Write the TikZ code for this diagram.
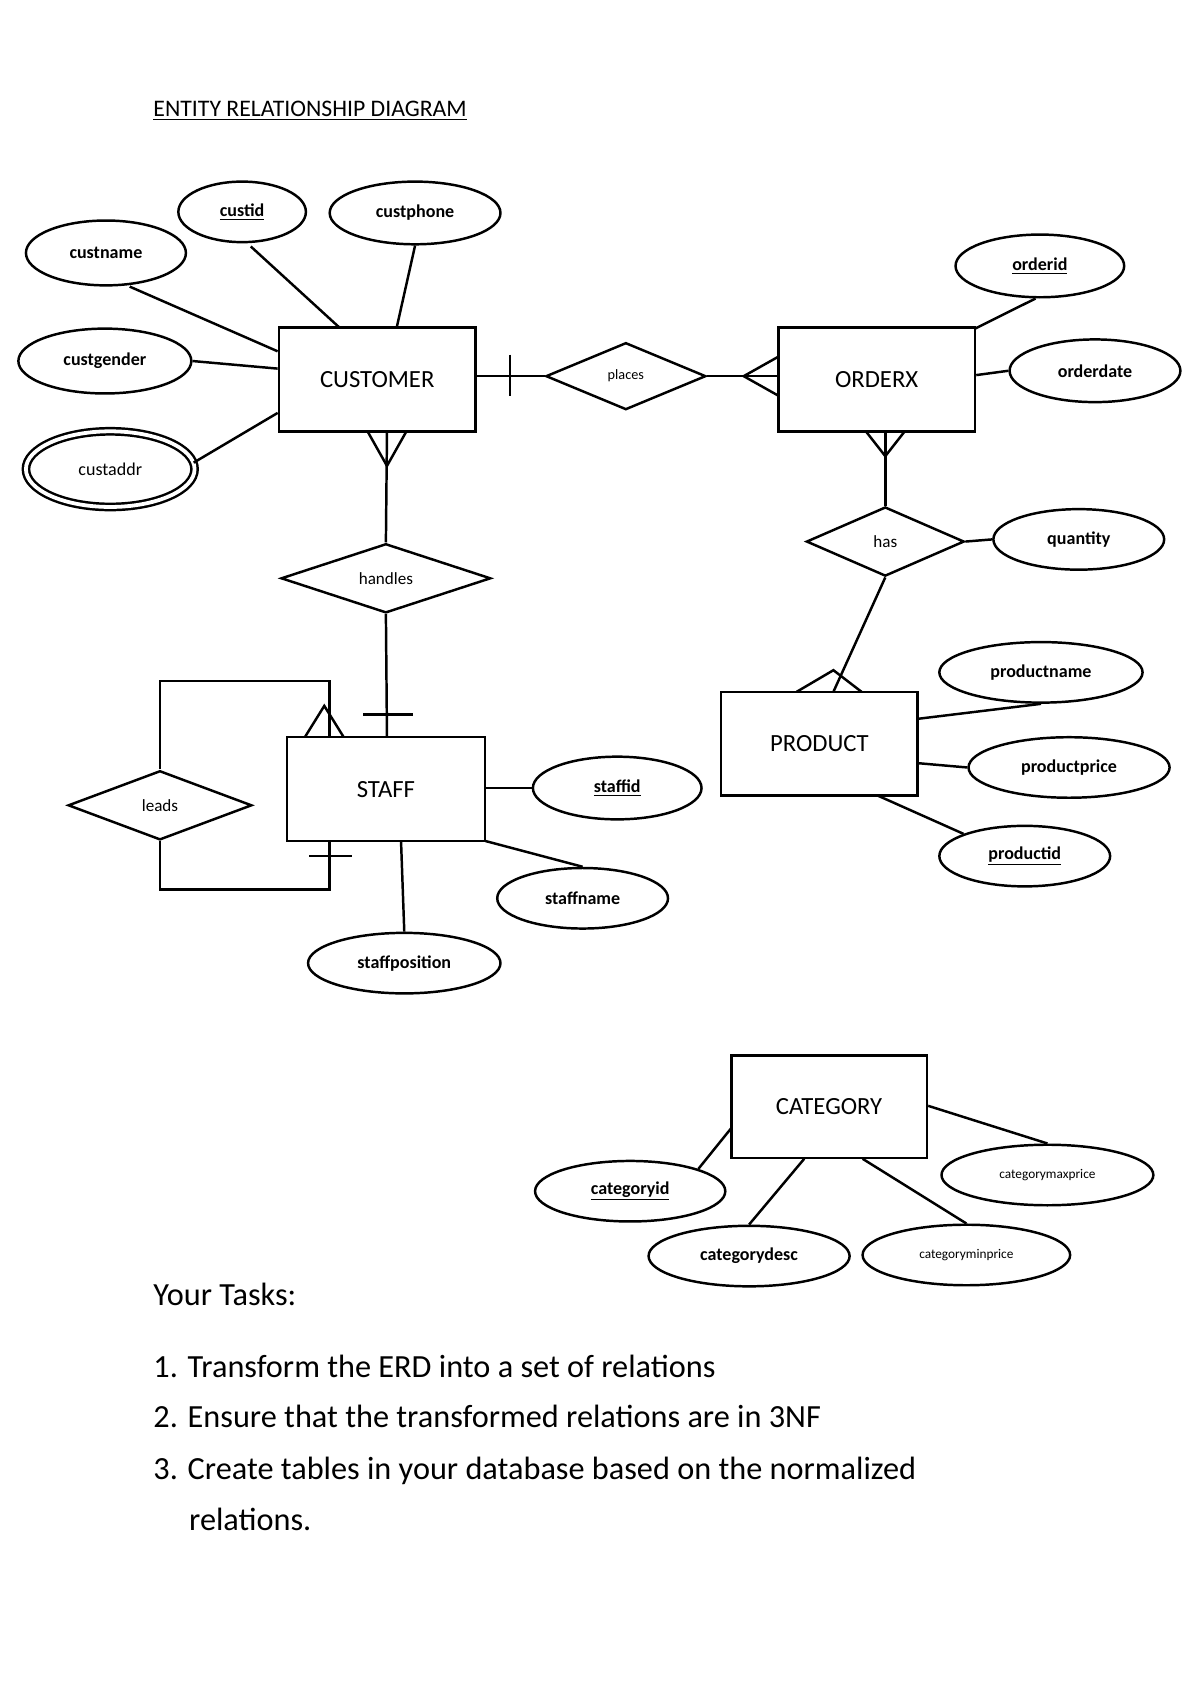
\documentclass[tikz,border=0pt]{standalone}
\usepackage{fontspec}
\setmainfont{Carlito}
\usetikzlibrary{shapes.geometric,shapes.misc}
\newcommand{\att}[6]{\node[attr,minimum width=#4*0.02cm,minimum height=#5*0.02cm] (#1) at (#2,#3) {#6};}
\begin{document}
\begin{tikzpicture}[x=0.02cm,y=-0.02cm,line width=1.3pt,
 ent/.style={draw,rectangle,inner sep=0pt,font=\fontsize{13}{15}\selectfont},
 attr/.style={draw,ellipse,inner sep=0pt,font=\bfseries\fontsize{9.5}{11}\selectfont},
 rel/.style={draw,diamond,aspect=2.4,inner sep=0pt,font=\fontsize{9}{11}\selectfont}]
\useasboundingbox (0,0) rectangle (1110,1569);
\node[anchor=base west,font=\fontsize{12.5}{14}\selectfont] (title) at (135,108) {\underline{ENTITY RELATIONSHIP DIAGRAM}};
% entities
\node[ent,minimum width=182*0.02cm,minimum height=96*0.02cm] (cust) at (349,351) {CUSTOMER};
\node[ent,minimum width=182*0.02cm,minimum height=96*0.02cm] (ord) at (811,351) {ORDERX};
\node[ent,minimum width=183*0.02cm,minimum height=96*0.02cm] (staff) at (357,730) {STAFF};
\node[ent,minimum width=182*0.02cm,minimum height=96*0.02cm] (prod) at (758,688) {PRODUCT};
\node[ent,minimum width=181*0.02cm,minimum height=95*0.02cm] (cat) at (767,1024) {CATEGORY};
% attributes
\att{custid}{224}{196}{118}{56}{\underline{custid}}
\att{custphone}{384}{197}{158}{58}{custphone}
\att{custname}{98}{234}{148}{60}{custname}
\att{custgender}{97}{334}{160}{60}{custgender}
\node[draw,ellipse,double,double distance=2pt,minimum width=156*0.02cm,minimum height=70*0.02cm,inner sep=0pt,font=\fontsize{9.5}{11}\selectfont] (custaddr) at (102,434) {custaddr};
\att{orderid}{962}{246}{156}{58}{\underline{orderid}}
\att{orderdate}{1013}{343}{158}{58}{orderdate}
\att{quantity}{998}{499}{158}{56}{quantity}
\att{productname}{963}{622}{188}{56}{productname}
\att{productprice}{989}{710}{186}{56}{productprice}
\att{productid}{948}{792}{158}{56}{\underline{productid}}
\att{staffid}{571}{729}{156}{58}{\underline{staffid}}
\att{staffname}{539}{831}{158}{56}{staffname}
\att{staffposition}{374}{891}{178}{56}{staffposition}
\att{categoryid}{583}{1102}{176}{56}{\underline{categoryid}}
\att{categorydesc}{693}{1162}{186}{56}{categorydesc}
\node[attr,font=\fontsize{7}{8}\selectfont,minimum width=196*0.02cm,minimum height=56*0.02cm] (catmax) at (969,1087) {categorymaxprice};
\node[attr,font=\fontsize{7}{8}\selectfont,minimum width=192*0.02cm,minimum height=56*0.02cm] (catmin) at (894,1161) {categoryminprice};
% relationships
\node[rel,minimum width=148*0.02cm,minimum height=62*0.02cm,font=\fontsize{7.5}{9}\selectfont] (places) at (579,348) {places};
\node[rel,minimum width=194*0.02cm,minimum height=64*0.02cm] (handles) at (357,535) {handles};
\node[rel,minimum width=146*0.02cm,minimum height=64*0.02cm] (has) at (819,501) {has};
\node[rel,minimum width=170*0.02cm,minimum height=64*0.02cm] (leads) at (148,745) {leads};
% attribute lines
\draw (custname.south) ++(22,0) coordinate (a1) -- (cust.west |- 0,325) coordinate (a2);
\draw (custid) ++(8,32) coordinate (b1) -- (314,303) coordinate (b2);
\draw (custphone.south) -- (367,303) coordinate (b3);
\draw (custgender.east) -- (cust.west |- 0,341) coordinate (b4);
\draw (custaddr.east) ++(-2,-6) coordinate (b5) -- (cust.west |- 0,382) coordinate (b6);
\draw (orderid.south) ++(-4,0) coordinate (c1) -- (902,304) coordinate (c2);
\draw (ord.east |- 0,347) coordinate (c3) -- (orderdate.west);
\draw (has.east) -- (quantity.west);
\draw (849,665) coordinate (d1) -- (productname.south) ;
\draw (849,706) coordinate (d2) -- (productprice.west);
\draw (812,736) coordinate (d3) -- (productid.north west);
\draw (staff.east |- 0,729) coordinate (e1) -- (staffid.west);
\draw (449,778) coordinate (e2) -- (staffname.north);
\draw (371,778) coordinate (e3) -- (staffposition.north);
\draw (677,1043) coordinate (f1) -- (categoryid.north east);
\draw (744,1072) coordinate (f2) -- (categorydesc.north);
\draw (798,1072) coordinate (f3) -- (catmin.north);
\draw (cat.east |- 0,1023) coordinate (f4) -- (catmax.north);
% relationships lines
\draw (cust.east |- 0,348) coordinate (g1) -- (places.west);
\draw (472,328) coordinate (g2) -- (472,366) coordinate (g3);
\draw (places.east) -- (ord.west |- 0,348) coordinate (g4);
\draw (720,330) coordinate (g5) -- (688,348) coordinate (g6) -- (720,366) coordinate (g7);
\draw (cust.south -| 358,0) coordinate (h1) -- (handles.north);
\draw (340,399) coordinate (h2) -- (358,431) coordinate (h3) -- (376,399) coordinate (h4);
\draw (handles.south) -- (staff.north -| 358,0) coordinate (h5);
\draw (336,661) coordinate (h6) -- (382,661) coordinate (h7);
\draw (ord.south -| 819,0) coordinate (i1) -- (has.north);
\draw (801,399) coordinate (i2) -- (819,422) coordinate (i3) -- (837,399) coordinate (i4);
\draw (has.south) -- (771,640) coordinate (j1);
\draw (737,640) coordinate (j2) -- (771,620) coordinate (j3) -- (797,640) coordinate (j4);
\draw (leads.north) -- (148,630) coordinate (k1) -- (305,630) coordinate (k2) -- (305,682) coordinate (k3);
\draw (282,682) coordinate (k4) -- (300,653) coordinate (k5) -- (318,682) coordinate (k6);
\draw (leads.south) -- (148,823) coordinate (l1) -- (305,823) coordinate (l2) -- (305,778) coordinate (l3);
\draw (286,792) coordinate (l4) -- (326,792) coordinate (l5);
% tasks
\begin{scope}[font=\fontsize{17}{20}\selectfont]
\node[anchor=base west] (t0) at (135,1208) {Your Tasks:};
\node[anchor=base west] (t1) at (135,1274) {1. Transform the ERD into a set of relations};
\node[anchor=base west] (t2) at (135,1321) {2. Ensure that the transformed relations are in 3NF};
\node[anchor=base west] (t3) at (135,1369) {3. Create tables in your database based on the normalized};
\node[anchor=base west] (t4) at (168,1416) {relations.};
\end{scope}
\end{tikzpicture}
\end{document}
